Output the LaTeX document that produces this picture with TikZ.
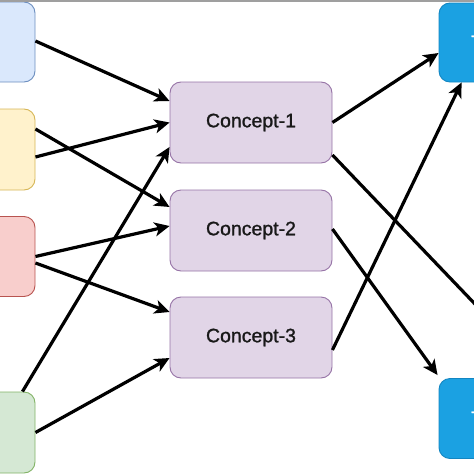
\documentclass[tikz,border=0pt]{standalone}
\usepackage{fontspec}
\setmainfont{Liberation Sans}
\newfontfamily\lblfont{Liberation Sans}[FakeBold=1.2]
\usetikzlibrary{arrows.meta}
\definecolor{bluef}{HTML}{DAE8FC}\definecolor{blued}{HTML}{6C8EBF}
\definecolor{yelf}{HTML}{FFF2CC}\definecolor{yeld}{HTML}{D6B656}
\definecolor{redf}{HTML}{F8CECC}\definecolor{redd}{HTML}{B85450}
\definecolor{grnf}{HTML}{D5E8D4}\definecolor{grnd}{HTML}{82B366}
\definecolor{purf}{HTML}{E1D5E7}\definecolor{purd}{HTML}{9673A6}
\definecolor{tealf}{HTML}{1BA1E2}\definecolor{teald}{HTML}{1386C2}
\tikzset{
  box/.style={rectangle, rounded corners=11pt, line width=0.9pt, inner sep=0pt,
    minimum width=80pt, minimum height=80pt, font=\lblfont\fontsize{19.5}{22}\selectfont, text=black!90},
  cbox/.style={box, fill=purf, draw=purd, minimum width=162pt, minimum height=81pt},
  tbox/.style={box, fill=tealf, draw=teald, text=white},
  arr/.style={line width=3.2pt, -{Stealth[length=15pt,width=14pt,inset=4pt]}}
}
\begin{document}
\begin{tikzpicture}[x=1pt,y=-1pt]
\useasboundingbox (0,0) rectangle (474,474);
\clip (0,0) rectangle (474,474);
% left boxes
\node[box, fill=bluef, draw=blued] (blue) at (-5,42) {};
\node[box, fill=yelf, draw=yeld, minimum height=81pt] (yel) at (-5,149.5) {};
\node[box, fill=redf, draw=redd] (red) at (-5,256.5) {};
\node[box, fill=grnf, draw=grnd, minimum height=81pt] (grn) at (-5,432.5) {};
% concept boxes
\node[cbox] (c1) at (251,122.5) {Concept-1};
\node[cbox] (c2) at (251,230.5) {Concept-2};
\node[cbox] (c3) at (251,337.5) {Concept-3};
% right boxes
\node[tbox, minimum height=79pt] (t1) at (479,42.5) {};
\node[tbox, minimum height=80pt] (t2) at (479,418.5) {};
\node[anchor=base west, inner sep=0pt, text=white, font=\lblfont\fontsize{19.5}{22}\selectfont] (t1l) at (471,49) {T};
\node[anchor=base west, inner sep=0pt, text=white, font=\lblfont\fontsize{19.5}{22}\selectfont] (t2l) at (471,425) {T};
\coordinate (off) at (540,372);
% arrows
\draw[arr] ([yshift=1pt]blue.east) -- ([yshift=21.5pt]c1.west);
\draw[arr] ([yshift=-7.5pt]yel.east) -- (c1.west);
\draw[arr] ([yshift=20.5pt]yel.east) -- ([yshift=23.5pt]c2.west);
\draw[arr] (red.east) -- ([yshift=4.5pt]c2.west);
\draw[arr] ([yshift=-6.5pt]red.east) -- ([yshift=25.5pt]c3.west);
\draw[arr] ([xshift=-13pt]grn.north east) -- ([yshift=-24.5pt]c1.west);
\draw[arr] (grn.east) -- ([yshift=-20.5pt]c3.west);
\draw[arr] (c1.east) -- ([yshift=-10.5pt]t1.west);
\draw[line width=3.2pt] ([yshift=-32.5pt]c1.east) -- (off);
\draw[arr] ([yshift=1.5pt]c2.east) -- ([yshift=3pt,xshift=-1pt]t2.north west);
\draw[arr] ([yshift=-12.5pt]c3.east) -- ([xshift=23pt]t1.south west);
% top border
\fill[gray!75] (0,0) rectangle (474,2);
\end{tikzpicture}
\end{document}
